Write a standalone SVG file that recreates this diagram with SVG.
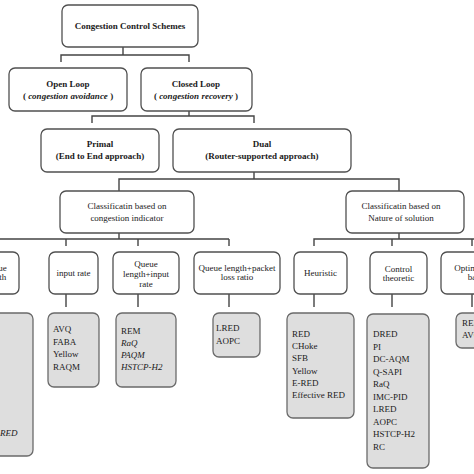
<svg xmlns="http://www.w3.org/2000/svg" width="474" height="474" viewBox="0 0 474 474" font-family="'Liberation Serif', 'Times New Roman', serif">
<style>
.box{fill:#ffffff;stroke:#505050;stroke-width:1.3}
.leaf{fill:#dedede;stroke:#6a6a6a;stroke-width:1.3}
text{font-family:'Liberation Serif','Times New Roman',serif;font-size:9px;fill:#1a1a1a}
.c{text-anchor:middle}
.b{font-weight:bold}
.i{font-style:italic}
.con{fill:none;stroke:#444444;stroke-width:1.4}
</style>
<rect width="474" height="474" fill="#ffffff"/>
<g id="connectors" class="con">
<path d="M123,47V55M61,62V55H189V62"/>
<path d="M189,111V116M92,123V116H254V123"/>
<path d="M254,172V179M119,191V179H399V191"/>
<path d="M119,233V239M0,239H229M66,239V246M138,239V246M229,239V246"/>
<path d="M399,233V239M314,246V239H474M392,239V246M472,239V246"/>
<path d="M66,294V307M138,294V307M229,294V307M314,294V307M392,294V307M472,294V307"/>
</g>
<g id="root"><rect class="box" x="62" y="5" width="136" height="42" rx="6"/><text class="c b" x="130" y="29">Congestion Control Schemes</text></g>
<g id="open"><rect class="box" x="9" y="68" width="118" height="43" rx="6"/><text class="c b" x="68" y="87">Open Loop</text><text class="c b" x="68" y="99">( <tspan class="i">congestion avoidance</tspan> )</text></g>
<g id="closed"><rect class="box" x="141" y="68" width="111" height="43" rx="6"/><text class="c b" x="196" y="87">Closed Loop</text><text class="c b" x="196" y="99">( <tspan class="i">congestion recovery</tspan> )</text></g>
<g id="primal"><rect class="box" x="41" y="129" width="118" height="43" rx="6"/><text class="c b" x="100" y="147">Primal</text><text class="c b" x="100" y="159">(End to End approach)</text></g>
<g id="dual"><rect class="box" x="173" y="129" width="178" height="43" rx="6"/><text class="c b" x="262" y="147">Dual</text><text class="c b" x="262" y="159">(Router-supported approach)</text></g>
<g id="class1"><rect class="box" x="60" y="191" width="134" height="42" rx="6"/><text class="c" x="127" y="209">Classificatin based on</text><text class="c" x="127" y="221">congestion indicator</text></g>
<g id="class2"><rect class="box" x="346" y="191" width="118" height="42" rx="6"/><text class="c" x="401" y="209">Classificatin based on</text><text class="c" x="401" y="221">Nature of solution</text></g>
<g id="qlen"><rect class="box" x="-40" y="252" width="59" height="42" rx="6"/><text class="c" x="-5" y="271">Queue</text><text class="c" x="-5" y="280">length</text></g>
<g id="inrate"><rect class="box" x="49" y="252" width="49" height="42" rx="6"/><text class="c" x="73.5" y="276">input rate</text></g>
<g id="qlenin"><rect class="box" x="113" y="252" width="66" height="42" rx="6"/><text class="c" x="146" y="267">Queue</text><text class="c" x="146" y="277">length+input</text><text class="c" x="146" y="287">rate</text></g>
<g id="qlenloss"><rect class="box" x="194" y="252" width="86" height="42" rx="6"/><text class="c" x="237" y="271">Queue length+packet</text><text class="c" x="237" y="280">loss ratio</text></g>
<g id="heur"><rect class="box" x="294" y="252" width="53" height="42" rx="6"/><text class="c" x="320.5" y="276">Heuristic</text></g>
<g id="ctrl"><rect class="box" x="370" y="252" width="57" height="42" rx="6"/><text class="c" x="398.5" y="272">Control</text><text class="c" x="398.5" y="281">theoretic</text></g>
<g id="optim"><rect class="box" x="441" y="252" width="74" height="42" rx="6"/><text class="c" x="478" y="271">Optimization</text><text class="c" x="478" y="280">based</text></g>
<g id="leaf1"><rect class="leaf" x="-40" y="313" width="73" height="143" rx="6"/><text class="i" x="0" y="436">RED</text></g>
<g id="leaf2"><rect class="leaf" x="48" y="313" width="51" height="74" rx="6"/><text x="53" y="332">AVQ</text><text x="53" y="345">FABA</text><text x="53" y="357">Yellow</text><text x="53" y="370">RAQM</text></g>
<g id="leaf3"><rect class="leaf" x="116" y="313" width="60" height="74" rx="6"/><text x="121" y="334">REM</text><text class="i" x="121" y="346">RaQ</text><text class="i" x="121" y="358">PAQM</text><text class="i" x="121" y="370">HSTCP-H2</text></g>
<g id="leaf4"><rect class="leaf" x="213" y="313" width="47" height="44" rx="6"/><text x="216" y="331">LRED</text><text x="216" y="344">AOPC</text></g>
<g id="leaf5"><rect class="leaf" x="287" y="313" width="67" height="105" rx="6"/><text x="292" y="337">RED</text><text x="292" y="349">CHoke</text><text x="292" y="361">SFB</text><text x="292" y="374">Yellow</text><text x="292" y="386">E-RED</text><text x="292" y="398">Effective RED</text></g>
<g id="leaf6"><rect class="leaf" x="367" y="314" width="62" height="154" rx="6"/><text x="373" y="337">DRED</text><text x="373" y="349.5">PI</text><text x="373" y="362">DC-AQM</text><text x="373" y="374.5">Q-SAPI</text><text x="373" y="387">RaQ</text><text x="373" y="399.5">IMC-PID</text><text x="373" y="412">LRED</text><text x="373" y="424.5">AOPC</text><text x="373" y="437">HSTCP-H2</text><text x="373" y="449.5">RC</text></g>
<g id="leaf7"><rect class="leaf" x="456" y="313" width="64" height="35" rx="6"/><text x="462" y="326">REM</text><text x="462" y="338">AVQ</text></g>
</svg>
